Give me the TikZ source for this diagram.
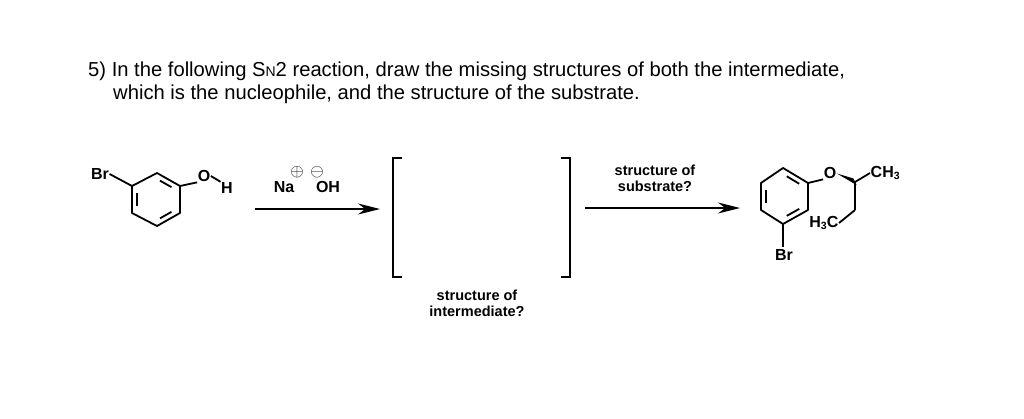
\documentclass[tikz,border=0pt]{standalone}
\usepackage{fontspec}
\setmainfont{Liberation Sans}
\usetikzlibrary{arrows.meta,calc}
\newcommand{\lowsub}[1]{\raisebox{-2.5pt}{\fontsize{10.5}{11}\selectfont #1}}
\begin{document}
\begin{tikzpicture}[x=1pt,y=-1pt,
  bnd/.style={line width=1.8pt},
  atom/.style={font=\fontsize{16}{16}\selectfont\bfseries,inner sep=0.5pt},
  lbl/.style={font=\fontsize{14.5}{16}\selectfont\bfseries,align=center,inner sep=0pt},
  rxn/.style={line width=1.8pt,-{Stealth[length=22pt,width=11pt]}}]
\useasboundingbox (0,0) rectangle (1024,418);
\fill[white] (0,0) rectangle (1024,418);
\node[anchor=base west,font=\fontsize{20.2}{24}\selectfont,inner sep=0] (t1) at (88,76) {5) In the following S{\fontsize{14}{14}\selectfont N}2 reaction, draw the missing structures of both the intermediate,};
\node[anchor=base west,font=\fontsize{20.2}{24}\selectfont,inner sep=0] (t2) at (113,99) {which is the nucleophile, and the structure of the substrate.};
% left ring
\foreach \n/\x/\y in {a/157/173,b/180/186,c/180/213,d/157/226,e/132/213,f/132/186} \coordinate (L\n) at (\x,\y);
\coordinate (Lo) at (156,199.5);
\draw[bnd,line join=round] (La)--(Lb)--(Lc)--(Ld)--(Le)--(Lf)--cycle;
\foreach \p/\q in {f/e,a/b,c/d}
  \draw[bnd] ($($(L\p)!0.18!(L\q)$)!0.22!(Lo)$) -- ($($(L\q)!0.18!(L\p)$)!0.22!(Lo)$);
\node[atom] (br1) at (100,174) {Br};
\node[atom] (o1) at (204,176) {O};
\node[atom] (h1) at (227,188) {H};
\draw[bnd] (Lf)--(br1.east);
\draw[bnd] (Lb)--(o1.south west);
\draw[bnd] (o1.east)--(h1.north west);
\node[atom] (na) at (284,187) {Na};
\node[font=\fontsize{19}{19}\selectfont,inner sep=0] (pl) at (297,172) {$\oplus$};
\node[font=\fontsize{19}{19}\selectfont,inner sep=0] (mi) at (317,172) {$\ominus$};
\node[atom] (oh) at (328,187) {OH};
\coordinate (a1s) at (255,209); \coordinate (a1e) at (380,209);
\draw[rxn] (a1s)--(a1e);
% brackets
\coordinate (bl) at (393,158); \coordinate (br) at (570,158);
\draw[bnd] ($(bl)+(9,0)$)--(bl)--(393,277)--(402,277);
\draw[bnd] ($(br)+(-9,0)$)--(br)--(570,277)--(561,277);
\node[lbl] (int) at (477,303) {structure of\\intermediate?};
\coordinate (a2s) at (585,208); \coordinate (a2e) at (740,208);
\draw[rxn] (a2s)--(a2e);
\node[lbl] (sub) at (655,178) {structure of\\substrate?};
% right ring
\foreach \n/\x/\y in {a/783/168,b/808/183,c/808/210,d/783/224,e/761/210,f/761/183} \coordinate (R\n) at (\x,\y);
\coordinate (Ro) at (784,196);
\draw[bnd,line join=round] (Ra)--(Rb)--(Rc)--(Rd)--(Re)--(Rf)--cycle;
\foreach \p/\q in {f/e,a/b,c/d}
  \draw[bnd] ($($(R\p)!0.18!(R\q)$)!0.22!(Ro)$) -- ($($(R\q)!0.18!(R\p)$)!0.22!(Ro)$);
\node[atom,inner sep=2pt] (br2) at (784,255) {Br};
\draw[bnd] (Rd)--(Rd|-br2.north);
\node[atom] (o2) at (830,173) {O};
\draw[bnd] (Rb)--(o2.south west);
\coordinate (cc) at (855,182);
\fill ($(o2.east)+(0,0.5)$) -- ($(cc)+(-1.5,-3.5)$) -- ($(cc)+(1.5,3)$) -- cycle;
\node[atom,anchor=west] (ch3) at (870,173) {CH\lowsub{3}};
\draw[bnd] (cc)--(ch3.west);
\coordinate (c2) at (855,210);
\draw[bnd] (cc)--(c2);
\node[atom,anchor=east] (h3c) at (839,223) {H\lowsub{3}C};
\draw[bnd] (c2)--(h3c.east);
\end{tikzpicture}
\end{document}
